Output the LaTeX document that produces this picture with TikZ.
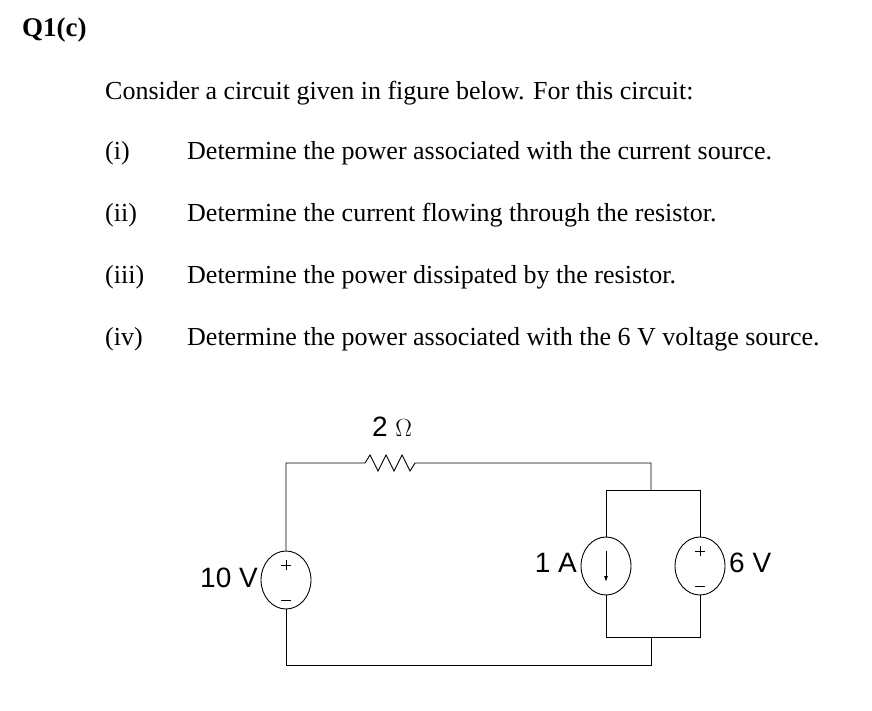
\documentclass[tikz,border=0pt]{standalone}
\usepackage{fontspec}
\setmainfont{Liberation Serif}
\newfontfamily\arialf{Liberation Sans}
\usetikzlibrary{shapes.geometric,arrows.meta}
\begin{document}
\begin{tikzpicture}[x=1pt,y=-1pt,
  txt/.style={anchor=base west,inner sep=0pt,font=\fontsize{26}{30}\selectfont},
  lbl/.style={inner sep=0pt,font=\arialf\fontsize{28}{32}\selectfont},
  wire/.style={line width=0.9pt},
  thin/.style={line width=0.6pt},
  src/.style={draw,ellipse,line width=0.9pt,minimum width=50pt,minimum height=58pt,inner sep=0pt}]
\useasboundingbox (0,0) rectangle (872,711);
\node[txt,font=\bfseries\fontsize{27}{30}\selectfont] (q) at (22,37) {Q1(c)};
\node[txt] (t0) at (105,100) {Consider a circuit given in figure below. For this circuit:};
\node[txt] (a1) at (105,160) {(i)};
\node[txt] (b1) at (187,160) {Determine the power associated with the current source.};
\node[txt] (a2) at (105,222) {(ii)};
\node[txt] (b2) at (187,222) {Determine the current flowing through the resistor.};
\node[txt] (a3) at (105,283) {(iii)};
\node[txt] (b3) at (187,283) {Determine the power dissipated by the resistor.};
\node[txt] (a4) at (105,345) {(iv)};
\node[txt] (b4) at (187,345) {Determine the power associated with the 6 V voltage source.};
% sources
\node[src] (v10) at (286,580) {};
\node[src] (ia) at (606,566) {};
\node[src] (v6) at (700,566) {};
\draw[thin] (281,565) -- (291,565) (286,560) -- (286,570);
\draw[thin] (281,600) -- (291,600);
\draw[thin] (695,551) -- (705,551) (700,546) -- (700,556);
\draw[thin] (695,586) -- (705,586);
\coordinate (ar1) at (606,551);
\coordinate (ar2) at (606,582);
\draw[wire,-{Latex[length=6pt,width=4pt]}] (ar1) -- (ar2);
\node[lbl,anchor=east] (l10) at (258,578) {10 V};
\node[lbl,anchor=east] (l1a) at (577,563) {1 A};
\node[lbl,anchor=west] (l6) at (729,563) {6 V};
\node[lbl] (lr) at (392,427) {2 {\rmfamily\fontsize{27}{30}\selectfont$\Omega$}};
% corners
\coordinate (tl) at (286,463);
\coordinate (tr) at (651,463);
\coordinate (bl) at (286,665);
\coordinate (br) at (651,665);
\coordinate (jt) at (651,490);
\coordinate (jb) at (651,637);
\coordinate (itl) at (606,490);
\coordinate (itr) at (700,490);
\coordinate (ibl) at (606,637);
\coordinate (ibr) at (700,637);
\coordinate (r1) at (365,463);
\coordinate (r2) at (421,463);
\draw[wire] (v10.north) -- (tl) -- (r1) -- ++(5,-8) -- ++(8,16) -- ++(8,-16) -- ++(8,16) -- ++(8,-16) -- ++(8,16) -- ++(5,-8) -- (r2) -- (tr) -- (jt);
\draw[wire] (v10.south) -- (bl) -- (br) -- (jb);
\draw[wire] (ia.north) -- (itl) -- (itr) -- (v6.north);
\draw[wire] (ia.south) -- (ibl) -- (ibr) -- (v6.south);
\end{tikzpicture}
\end{document}
